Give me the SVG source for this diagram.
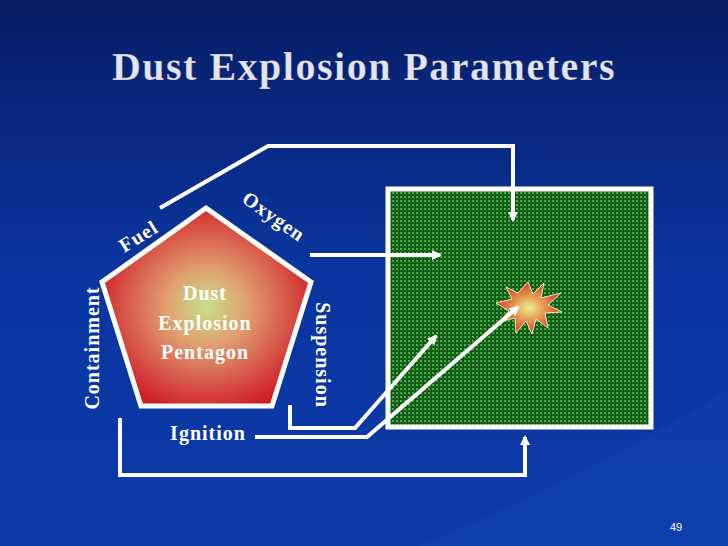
<svg xmlns="http://www.w3.org/2000/svg" width="728" height="546" viewBox="0 0 728 546">
<defs>
<linearGradient id="bg" x1="0" y1="0" x2="0" y2="1"><stop offset="0" stop-color="#061d66"/><stop offset="0.5" stop-color="#0a35a0"/><stop offset="1" stop-color="#0b3aa8"/></linearGradient>
<radialGradient id="pg" cx="0.5" cy="0.5" r="0.55"><stop offset="0" stop-color="#c8e08a"/><stop offset="0.35" stop-color="#e0a070"/><stop offset="1" stop-color="#d01a28"/></radialGradient>
<radialGradient id="sg" cx="0.5" cy="0.5" r="0.5"><stop offset="0" stop-color="#e8f08a"/><stop offset="0.5" stop-color="#e69050"/><stop offset="1" stop-color="#d0401e"/></radialGradient>
<pattern id="gp" width="4" height="4" patternUnits="userSpaceOnUse"><rect width="4" height="4" fill="#14561a"/><rect x="0" y="0" width="2" height="2" fill="#3fb83a"/><rect x="2" y="2" width="1" height="1" fill="#2f8f30"/></pattern>
<marker id="ah" markerWidth="10" markerHeight="10" refX="8" refY="5" orient="auto" markerUnits="userSpaceOnUse"><path d="M0,0 L10,5 L0,10 Z" fill="#fff"/></marker>
<style>
.lb{font-family:"Liberation Serif",serif;font-weight:bold;font-size:20px;fill:#fff;letter-spacing:1px}
.cn{fill:none;stroke:#fff;stroke-width:4;stroke-linejoin:miter}
</style>
</defs>
<rect width="728" height="546" fill="url(#bg)"/>
<path d="M420,546 Q600,470 728,390 L728,546 Z" fill="#1448b8" opacity="0.35"/>
<text x="364" y="80" text-anchor="middle" font-family="Liberation Serif,serif" font-weight="bold" font-size="40" letter-spacing="1.5" fill="#e4e4ee" stroke="#1a1a40" stroke-opacity="0.4" stroke-width="0.6">Dust Explosion Parameters</text>
<g id="box"><rect x="388" y="189" width="263" height="238" fill="url(#gp)" stroke="#fff" stroke-width="5"/></g>
<g id="burst"><path d="M528,282 L533,294 L544,283 L541,298 L561,293 L548,305 L562,312 L545,313 L548,328 L536,319 L532,334 L526,321 L516,333 L515,318 L499,322 L509,311 L496,303 L512,299 L506,287 L518,293 Z" fill="url(#sg)" stroke="#f6e6c0" stroke-width="1"/></g>
<g id="pentagon"><polygon points="206,208 311,282 272,406 141,406 102,282" fill="url(#pg)" stroke="#fff" stroke-width="5"/>
<text class="lb" x="205" y="300" text-anchor="middle" font-size="19">Dust</text>
<text class="lb" x="205" y="330" text-anchor="middle" font-size="19">Explosion</text>
<text class="lb" x="205" y="359" text-anchor="middle" font-size="19">Pentagon</text></g>
<g id="labels">
<text class="lb" transform="translate(142,242) rotate(-32)" text-anchor="middle">Fuel</text>
<text class="lb" transform="translate(270,222) rotate(35)" text-anchor="middle">Oxygen</text>
<text class="lb" transform="translate(99,348) rotate(-90)" text-anchor="middle">Containment</text>
<text class="lb" transform="translate(316,355) rotate(90)" text-anchor="middle">Suspension</text>
<text class="lb" x="208" y="440" text-anchor="middle">Ignition</text>
</g>
<g id="connectors">
<polyline class="cn" points="160,208 268,146 513,146 513,220" marker-end="url(#ah)"/>
<polyline class="cn" points="310,255 440,255" marker-end="url(#ah)"/>
<polyline class="cn" points="290,405 290,428 355,428 436,336" marker-end="url(#ah)"/>
<polyline class="cn" points="255,437 367,437 518,307" marker-end="url(#ah)"/>
<polyline class="cn" points="120,418 120,475 525,475 525,437" marker-end="url(#ah)"/>
</g>
<text x="676" y="531" text-anchor="middle" font-family="Liberation Sans,sans-serif" font-size="11" fill="#fff">49</text>
</svg>
